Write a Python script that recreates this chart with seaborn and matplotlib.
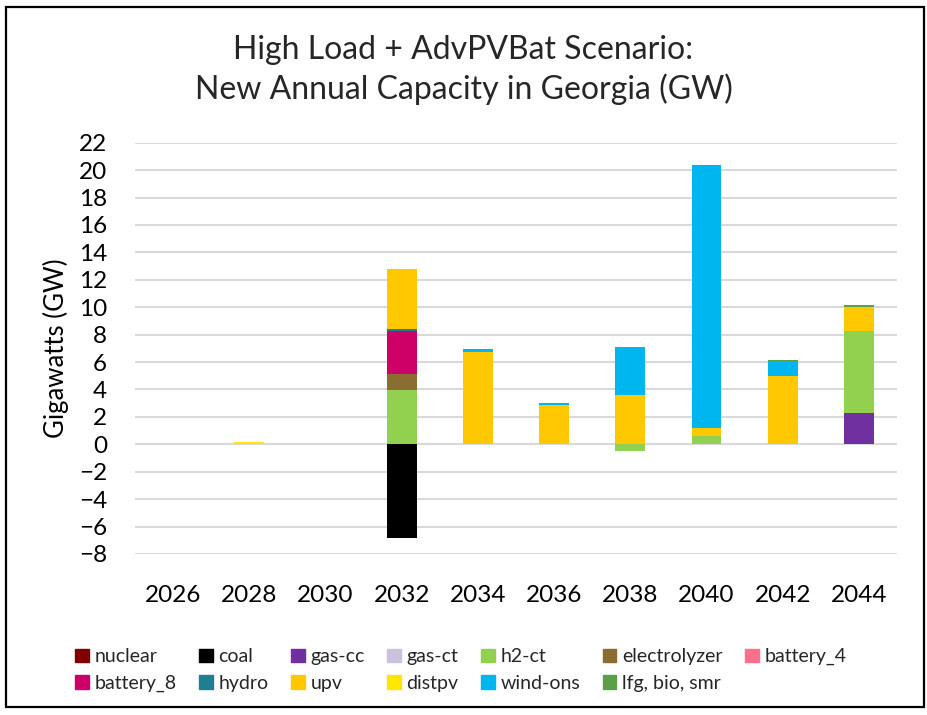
import numpy as np
import pandas as pd
import matplotlib
matplotlib.use('Agg')
import matplotlib.pyplot as plt
from matplotlib.patches import Rectangle, Patch
import seaborn as sns

sns.set_theme(style='white')
plt.rcParams['font.family'] = ['Lato', 'DejaVu Sans']

# %%
years = ['2026', '2028', '2030', '2032', '2034', '2036', '2038', '2040', '2042', '2044']

techs = ['nuclear', 'coal', 'gas-cc', 'gas-ct', 'h2-ct', 'electrolyzer', 'battery_4',
         'battery_8', 'hydro', 'upv', 'distpv', 'wind-ons', 'lfg, bio, smr']

nuclear      = [0, 0,    0, 0,     0,    0,    0,    0,     0,    0]
coal         = [0, 0,    0, -6.85, 0,    0,    0,    0,     0,    0]
gas_cc       = [0, 0,    0, 0,     0,    0,    0,    0,     0,    2.3]
gas_ct       = [0, 0,    0, 0,     0,    0,    0,    0,     0,    0]
h2_ct        = [0, 0,    0, 3.95,  0,    0,    -0.5, 0.58,  0,    6.0]
electrolyzer = [0, 0,    0, 1.15,  0,    0,    0,    0,     0,    0]
battery_4    = [0, 0,    0, 0,     0,    0,    0,    0,     0,    0]
battery_8    = [0, 0,    0, 3.2,   0,    0,    0,    0,     0,    0]
hydro        = [0, 0,    0, 0.1,   0,    0,    0,    0,     0,    0]
upv          = [0, 0,    0, 4.4,   6.75, 2.9,  3.6,  0.6,   4.95, 1.75]
distpv       = [0, 0.15, 0, 0,     0,    0,    0,    0,     0,    0]
wind_ons     = [0, 0,    0, 0,     0.17, 0.1,  3.5,  19.2,  1.15, 0]
lfg_bio_smr  = [0, 0,    0, 0,     0,    0,    0,    0,     0.07, 0.1]

paleta = ['#800000', '#000000', '#7030A0', '#CCC0DA', '#92D050', '#8C6D31', '#FF6E8B',
          '#CC0066', '#1F7F91', '#FFC800', '#FFE600', '#00B6EE', '#5B9F48']

df = pd.DataFrame([nuclear, coal, gas_cc, gas_ct, h2_ct, electrolyzer, battery_4,
                   battery_8, hydro, upv, distpv, wind_ons, lfg_bio_smr],
                  index=techs, columns=years).T

# cumulative stacks, positives up and negatives down
pos = df.clip(lower=0).cumsum(axis=1)
neg = df.clip(upper=0).cumsum(axis=1)

# %%
fig = plt.figure(figsize=(9.27, 7.15), dpi=100)
ax = fig.add_axes([0.1456, 0.2252, 0.8220, 0.5752])

# draw from the top layer down so each lower layer covers the one above
for i in range(len(techs) - 1, -1, -1):
    t = techs[i]
    for stack in (pos, neg):
        sns.barplot(x=years, y=stack[t].values, color=paleta[i], saturation=1,
                    width=0.39, linewidth=0, ax=ax, order=years)

ax.set_ylim(-8, 22)
ax.set_yticks(np.arange(-8, 23, 2))
ax.set_xlim(-0.5, 9.5)
ax.grid(axis='y', color='#D9D9D9', lw=1.5)
ax.set_axisbelow(True)
sns.despine(ax=ax, left=True, bottom=True)
ax.tick_params(axis='both', length=0, labelsize=17.5, colors='black')
ax.tick_params(axis='x', pad=22)
ax.tick_params(axis='y', pad=20)
ax.set_xlabel('')
ax.set_ylabel('Gigawatts (GW)', fontsize=18.5, color='black')
ax.yaxis.set_label_coords(-0.086, 0.5)

fig.text(0.5, 1 - 70 / 715, 'High Load + AdvPVBat Scenario:\nNew Annual Capacity in Georgia (GW)',
         ha='center', va='center', fontsize=23, linespacing=1.35)

# legend, two rows read left to right
handles = [Patch(color=c, label=t) for t, c in zip(techs, paleta)]
order = []
for c in range(7):
    order.append(c)
    if c + 7 < len(techs):
        order.append(c + 7)
leg = fig.legend([handles[k] for k in order], [techs[k] for k in order],
                 ncol=7, loc='center', bbox_to_anchor=(0.497, 1 - 670 / 715), frameon=False,
                 fontsize=14, handlelength=0.7, handleheight=0.7, handletextpad=0.3,
                 columnspacing=1.15, labelspacing=0.48)

fig.patches.append(Rectangle((6 / 927, 1 - 707 / 715), 917.5 / 927, 700.5 / 715,
                             transform=fig.transFigure, fill=False, edgecolor='black', lw=1.6))

plt.savefig('out.png')
